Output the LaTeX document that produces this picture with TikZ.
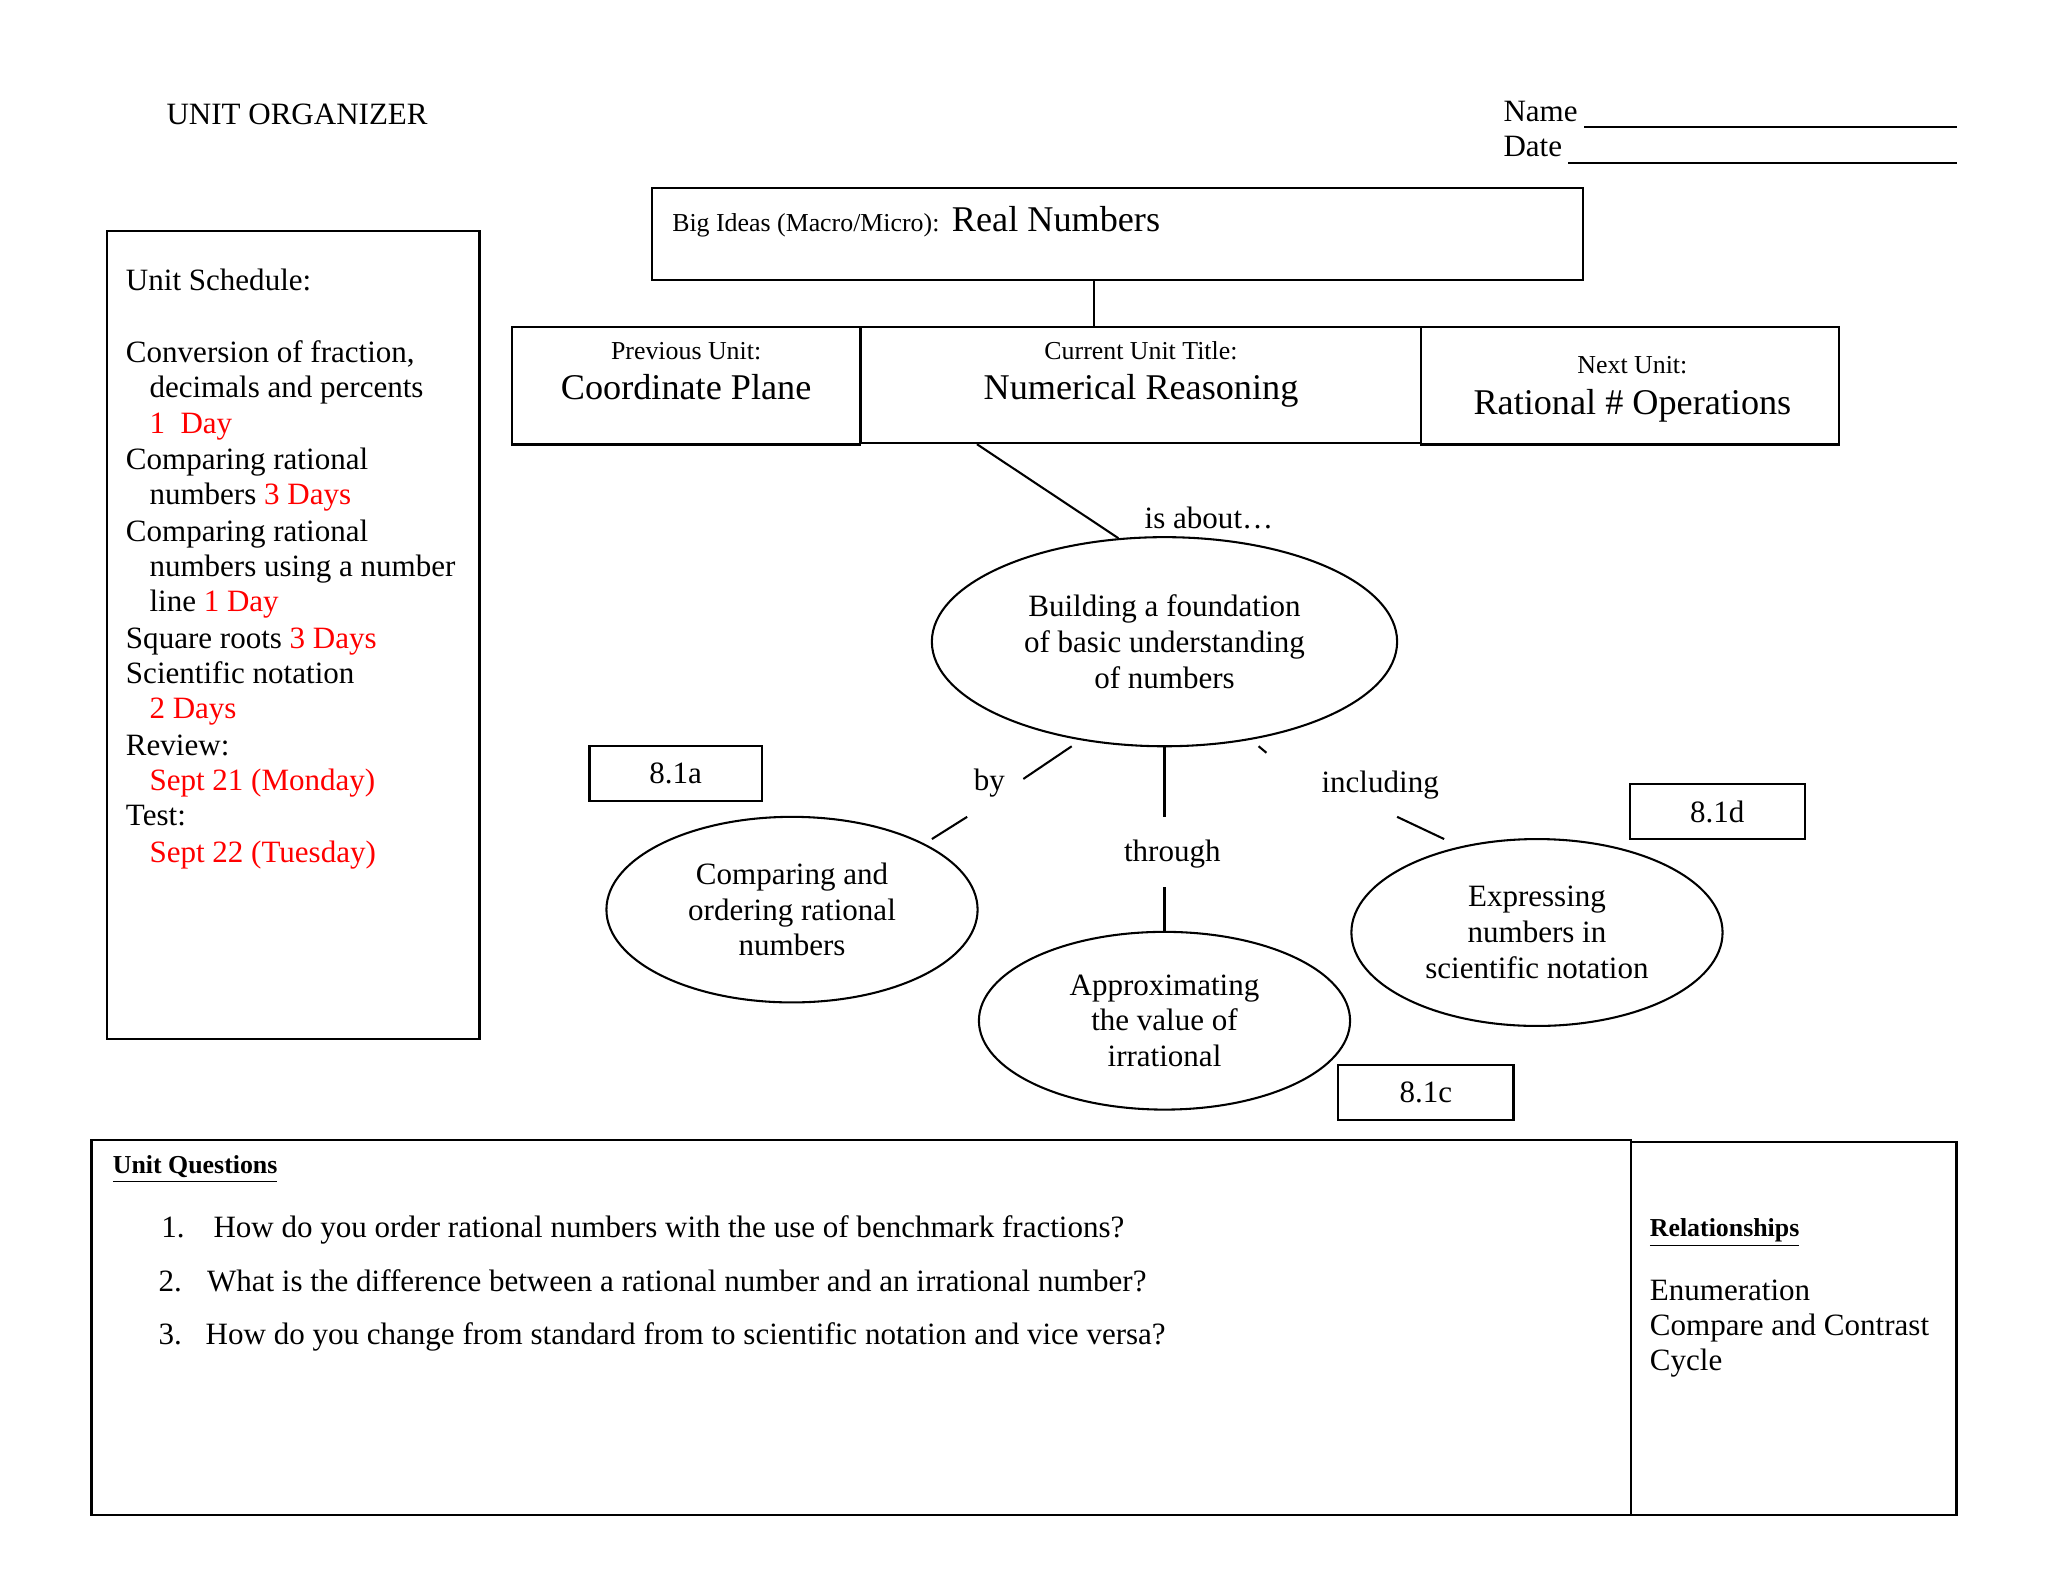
\documentclass[tikz,border=0pt]{standalone}
\usepackage{fontspec}
\setmainfont{Liberation Serif}
\usetikzlibrary{shapes.geometric,calc}
\tikzset{
  bx/.style 2 args={draw,line width=0.9pt,inner sep=0pt,minimum width=#1*0.5054pt,minimum height=#2*0.5054pt,font=\fontsize{12}{14}\selectfont},
  el/.style 2 args={draw,ellipse,line width=0.8pt,inner sep=0pt,minimum width=#1*0.5054pt,minimum height=#2*0.5054pt,align=center,font=\fontsize{12}{13.8}\selectfont},
  tx/.style={anchor=base west,inner sep=0pt,font=\fontsize{12}{14}\selectfont},
  txc/.style={anchor=base,inner sep=0pt,font=\fontsize{12}{14}\selectfont},
  sm/.style={anchor=base,inner sep=0pt,font=\fontsize{10}{12}\selectfont},
  lg/.style={anchor=base,inner sep=0pt,font=\fontsize{14}{16}\selectfont},
  hd/.style={anchor=base west,inner sep=0pt,font=\fontsize{10}{12}\selectfont\bfseries},
  ln/.style={line width=0.8pt}
}
\begin{document}
\begin{tikzpicture}[x=0.5054pt,y=-0.5054pt]
\fill[white] (0,0) rectangle (1567,1210.5);
\useasboundingbox (0,0) rectangle (1567,1210.5);

% header
\node[tx] (title) at (127,95) {UNIT ORGANIZER};
\node[tx] (name) at (1150,93) {Name};
\node[tx] (date) at (1150,120) {Date};
\draw[ln] (1212,97.5) -- (1497,97.5);
\draw[ln] (1200,125) -- (1497,125);

% top boxes
\node[bx={712}{70}] (big) at (855,179) {};
\node[anchor=base west,inner sep=0pt,font=\fontsize{10}{12}\selectfont] (bigl) at (514,177) {Big Ideas (Macro/Micro):};
\node[anchor=base west,inner sep=0pt,font=\fontsize{14}{16}\selectfont] (bigt) at (728,177) {Real Numbers};

\node[bx={266}{90}] (prev) at (525,295) {};
\node[bx={428}{89}] (cur) at (873,294.5) {};
\node[bx={320}{90}] (next) at (1247,295) {};
\node[sm] (prevl) at (525,275) {Previous Unit:};
\node[lg] (prevt) at (525,306) {Coordinate Plane};
\node[sm] (curl) at (873,275) {Current Unit Title:};
\node[lg] (curt) at (873,306) {Numerical Reasoning};
\node[sm] (nextl) at (1249,286) {Next Unit:};
\node[lg] (nextt) at (1249,317) {Rational \# Operations};

\coordinate (jx) at (837,0);
\draw[ln] (big.south -| jx) -- (cur.north -| jx);

% schedule
\node[bx={285}{618}] (sched) at (224.5,486) {};
\node[tx] (s1) at (96,222) {Unit Schedule:};
\node[tx] (s2) at (96,277) {Conversion of fraction,};
\node[tx] (s3) at (114,304) {decimals and percents};
\node[tx,text=red] (s4) at (114,332) {1\ \ Day};
\node[tx] (s5) at (96,359) {Comparing rational};
\node[tx] (s6) at (114,386) {numbers \textcolor{red}{3 Days}};
\node[tx] (s7) at (96,414) {Comparing rational};
\node[tx] (s8) at (114,441) {numbers using a number};
\node[tx] (s9) at (114,468) {line \textcolor{red}{1 Day}};
\node[tx] (s10) at (96,496) {Square roots \textcolor{red}{3 Days}};
\node[tx] (s11) at (96,523) {Scientific notation};
\node[tx,text=red] (s12) at (114,550) {2 Days};
\node[tx] (s13) at (96,578) {Review:};
\node[tx,text=red] (s14) at (114,605) {Sept 21 (Monday)};
\node[tx] (s15) at (96,632) {Test:};
\node[tx,text=red] (s16) at (114,660) {Sept 22 (Tuesday)};

% concept map
\node[el={356}{160}] (main) at (891,491) {Building a foundation\\of basic understanding\\of numbers};
\node[el={284}{142}] (left) at (606,696) {Comparing and\\ordering rational\\numbers};
\node[el={284}{136}] (bot) at (891,781) {Approximating\\the value of\\irrational};
\node[el={284}{143}] (right) at (1176,713.5) {Expressing\\numbers in\\scientific notation};

\node[txc] (isabout) at (925,404) {is about…};
\node[txc] (by) at (757,605) {by};
\node[txc] (through) at (897,659) {through};
\node[txc] (including) at (1056,606) {including};

\draw[ln] ($(cur.south west)!0.208!(cur.south east)$) -- (main.114);

\coordinate (by0) at (820,571);
\coordinate (by1) at (783,596);
\coordinate (by2) at (740,625);
\coordinate (by3) at (713,642);
\draw[ln] (by0) -- (by1);
\draw[ln] (by2) -- (by3);

\coordinate (th1) at (891,625);
\coordinate (th2) at (891,679);
\draw[ln] (main.south) -- (th1);
\draw[ln] (th2) -- (bot.north);

\coordinate (in0) at (963,571);
\coordinate (in1) at (969,576);
\coordinate (in2) at (1069,625);
\coordinate (in3) at (1105,642);
\draw[ln] (in0) -- (in1);
\draw[ln] (in2) -- (in3);

\node[bx={132}{42}] (a81) at (517,592) {8.1a};
\node[bx={134}{42}] (d81) at (1314,621) {8.1d};
\node[bx={134}{42}] (c81) at (1091,836) {8.1c};

% bottom boxes
\node[bx={1178}{287}] (uq) at (659,1015.5) {};
\node[bx={249}{285}] (rel) at (1372.5,1016.5) {};
\node[hd] (uqh) at (86,898) {\underline{Unit Questions}};
\node[tx] (q1n) at (123,947) {1.};
\node[tx] (q1) at (163,947) {How do you order rational numbers with the use of benchmark fractions?};
\node[tx] (q2n) at (121,988) {2.};
\node[tx] (q2) at (158,988) {What is the difference between a rational number and an irrational number?};
\node[tx] (q3n) at (121,1029) {3.};
\node[tx] (q3) at (157,1029) {How do you change from standard from to scientific notation and vice versa?};

\node[hd] (relh) at (1262,946) {\underline{Relationships}};
\node[tx] (r1) at (1262,995) {Enumeration};
\node[tx] (r2) at (1262,1022) {Compare and Contrast};
\node[tx] (r3) at (1262,1049) {Cycle};
\end{tikzpicture}
\end{document}
